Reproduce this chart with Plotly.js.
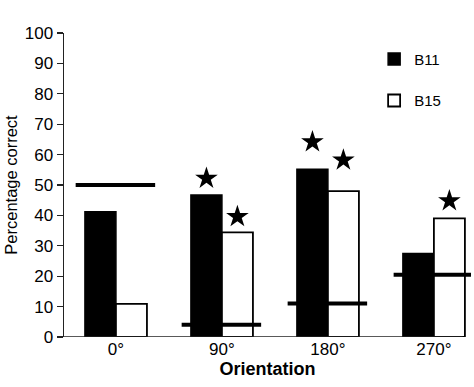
<!DOCTYPE html>
<html>
<head>
<meta charset="utf-8">
<script src="https://cdn.plot.ly/plotly-3.0.1.min.js"></script>
<style>html,body{margin:0;padding:0;background:#fff;}#chart{width:474px;height:387px;}</style>
</head>
<body>
<div id="chart"></div>
<script>
// Data
var categories = ["0°", "90°", "180°", "270°"];
var b11 = [41.2, 46.7, 55.2, 27.5];
var b15 = [10.9, 34.4, 48.0, 39.0];
var chance = [50, 4, 11, 20.5];
var starB11 = [null, 52.2, 64.2, null];
var starB15 = [null, 39.6, 58.2, 44.8];

var idx = categories.map(function(_, i){ return i; });
var halfBar = 0.146;

// chance line segments
var cx = [], cy = [];
idx.forEach(function(i){
  cx.push(i - 0.38, i + 0.37, null);
  cy.push(chance[i], chance[i], null);
});

var font = "Liberation Sans, Arial, sans-serif";

var traces = [
  {type:'bar', name:'B11', x: idx, y: b11, legendgroup:'a',
   marker:{color:'#000', line:{color:'#000', width:1.5}}},
  {type:'bar', name:'B15', x: idx, y: b15, legendgroup:'b',
   marker:{color:'#fff', line:{color:'#000', width:1.8}}},
  {type:'scatter', mode:'lines', x: cx, y: cy, showlegend:false, hoverinfo:'skip',
   line:{color:'#000', width:4}},
  {type:'scatter', mode:'markers', x: idx.map(function(i){return i - halfBar;}), y: starB11,
   showlegend:false, marker:{symbol:'star', size:17, color:'#000'}},
  {type:'scatter', mode:'markers', x: idx.map(function(i){return i + halfBar;}), y: starB15,
   showlegend:false, marker:{symbol:'star', size:17, color:'#000'}}
];

var layout = {
  width: 474, height: 387,
  margin: {l: 64, r: 3, t: 33, b: 50},
  paper_bgcolor: '#fff', plot_bgcolor: '#fff',
  font: {family: font, size: 16, color: '#000'},
  barmode: 'group', bargap: 0.415, bargroupgap: 0,
  showlegend: true,
  legend: {x: 0.762, y: 0.968, xanchor:'left', yanchor:'top', tracegroupgap: 19,
           font:{family: font, size: 15, color:'#000'}, bgcolor:'rgba(0,0,0,0)'},
  xaxis: {
    range: [-0.49, 3.35],
    tickmode: 'array', tickvals: idx, ticktext: categories,
    showline: false, showgrid: false, zeroline: false, ticks: '',
    tickfont: {family: font, size: 17, color:'#000'},
    title: {text: '<b>Orientation</b>', font: {family: font, size: 18, color:'#000'}, standoff: 0}
  },
  yaxis: {
    range: [0, 100], dtick: 10, tick0: 0,
    showline: true, linecolor: '#222', linewidth: 1.5,
    ticks: 'outside', ticklen: 6, tickwidth: 1.2, tickcolor: '#222',
    showgrid: false, zeroline: false,
    tickfont: {family: font, size: 17, color:'#000'},
    title: {text: 'Percentage correct', font: {family: font, size: 16.5, color:'#000'}, standoff: 3}
  },
  shapes: [
    {type:'line', xref:'x', yref:'y', x0:-0.49, x1:3.27, y0:0, y1:0,
     line:{color:'#222', width:1.5}, layer:'above'}
  ]
};

Plotly.newPlot('chart', traces, layout, {displayModeBar:false, staticPlot:true});
</script>
</body>
</html>
